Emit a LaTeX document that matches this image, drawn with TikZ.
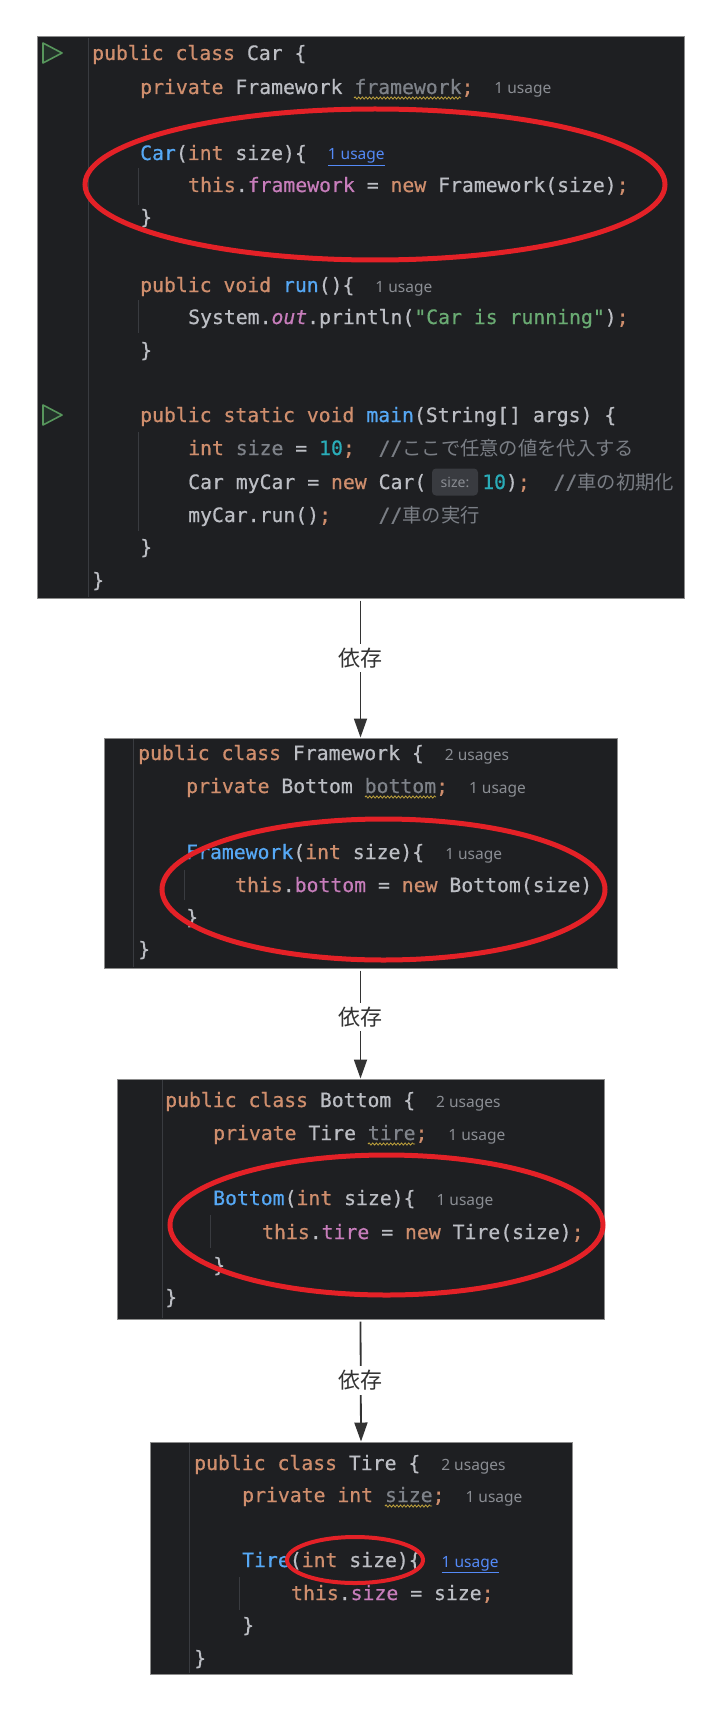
\documentclass[tikz,border=0pt]{standalone}
\usepackage{fontspec}
\usetikzlibrary{arrows.meta,decorations.pathmorphing}
\newfontfamily\codefont[FakeBold=0.6]{DejaVu Sans Mono}
\newfontfamily\hintfont{Noto Sans}
\newfontfamily\jpfont{Noto Sans CJK JP}
\definecolor{editorbg}{HTML}{1E1F22}
\definecolor{paneledge}{HTML}{8C8C8C}
\definecolor{codefg}{HTML}{BCBEC4}
\definecolor{kwcol}{HTML}{CF8E6D}
\definecolor{fncol}{HTML}{56A8F5}
\definecolor{fldcol}{HTML}{C77DBB}
\definecolor{strcol}{HTML}{6AAB73}
\definecolor{numcol}{HTML}{2AACB8}
\definecolor{cmtcol}{HTML}{7A7E85}
\definecolor{unusedcol}{HTML}{7E8289}
\definecolor{hintcol}{HTML}{8A8D93}
\definecolor{linkcol}{HTML}{548AF7}
\definecolor{inlaybg}{HTML}{393B40}
\definecolor{gutterline}{HTML}{393B40}
\definecolor{warnyellow}{HTML}{BFA23C}
\definecolor{rungreen}{HTML}{57965C}
\definecolor{runfill}{HTML}{23302A}
\definecolor{circlered}{HTML}{E42127}
\definecolor{arrowgray}{HTML}{333333}
% syntax colouring
\newcommand{\kw}[1]{\textcolor{kwcol}{#1}}
\newcommand{\fn}[1]{\textcolor{fncol}{#1}}
\newcommand{\fld}[1]{\textcolor{fldcol}{#1}}
\newcommand{\unused}[1]{\textcolor{unusedcol}{#1}}
\newcommand{\strlit}[1]{\textcolor{strcol}{#1}}
\newcommand{\numlit}[1]{\textcolor{numcol}{#1}}
\newcommand{\semi}{\textcolor{kwcol}{;}}
\newcommand{\cmt}[1]{\textcolor{cmtcol}{#1}}
\newcommand{\jp}[1]{{\jpfont\fontsize{19.3}{24}\selectfont#1}}
\newcommand{\hint}[1]{\hspace{21pt}{\hintfont\fontsize{15.5}{18}\selectfont\textcolor{hintcol}{#1}}}
\newcommand{\usagelink}[1]{\hspace{21pt}{\hintfont\fontsize{15.5}{18}\selectfont\color{linkcol}\underline{#1}}}
\begin{document}
\begin{tikzpicture}[x=1pt,y=-1pt,
  panel/.style={draw=paneledge, line width=1pt, fill=editorbg, inner sep=0pt},
  code/.style={anchor=base west, inner sep=0pt, text=codefg, font=\codefont\fontsize{19.77}{24}\selectfont},
  gutter/.style={draw=gutterline, line width=1pt},
  wavy/.style={draw=warnyellow, line width=0.8pt, decorate, decoration={snake, amplitude=1.1pt, segment length=3.6pt}},
  redring/.style={draw=circlered, line width=5pt},
  runmark/.style={draw=rungreen, fill=runfill, line width=1.6pt, line join=round},
  inlay/.style={fill=inlaybg, rounded corners=4pt, inner sep=0pt, minimum width=46pt, minimum height=27pt, text=hintcol, font=\hintfont\fontsize{14}{16}\selectfont},
  dep/.style={draw=arrowgray, line width=1.8pt, -{Triangle[length=19pt,width=13pt]}, shorten <=2pt},
  deplabel/.style={fill=white, inner sep=4pt, text=arrowgray, font=\jpfont\fontsize{22}{26}\selectfont}]
\fill[white] (0,0) rectangle (721,1712);
\useasboundingbox (0,0) rectangle (721,1712);

% the four editor screenshots
\node[panel, minimum width=647pt, minimum height=561pt] (car) at (360.5,317.5) {};
\node[panel, minimum width=513pt, minimum height=230pt] (framework) at (360.5,853) {};
\node[panel, minimum width=487pt, minimum height=240pt] (bottom) at (360.5,1199) {};
\node[panel, minimum width=422pt, minimum height=232pt] (tire) at (361,1558) {};

\draw[gutter] (88,38) -- (88,597);
\draw[gutter] (133,739) -- (133,967);
\draw[gutter] (162,1080) -- (162,1318);
\draw[gutter] (189,1443) -- (189,1673);
\draw[gutter] (138,168) -- (138,205);
\draw[gutter] (138,300) -- (138,333);
\draw[gutter] (138,432) -- (138,531);
\draw[gutter] (184,870) -- (184,900);
\draw[gutter] (210,1215) -- (210,1248);
\draw[gutter] (239,1577) -- (239,1610);

\draw[runmark] (43,43) -- (62,53) -- (43,63) -- cycle;
\draw[runmark] (43,405) -- (62,415) -- (43,425) -- cycle;

% Car
\node[code] (carL1) at (92,60) {\kw{public class} Car \{};
\node[code] (carL2) at (140,94) {\kw{private} Framework \unused{framework}\semi\hint{1 usage}};
\node[code] (carL4) at (140,160) {\fn{Car}(\kw{int} size)\{\usagelink{1 usage}};
\node[code] (carL5) at (188,192) {\kw{this}.\fld{framework} = \kw{new} Framework(size)\semi};
\node[code] (carL6) at (140,224) {\}};
\node[code] (carL8) at (140,292) {\kw{public void} \fn{run}()\{\hint{1 usage}};
\node[code] (carL9) at (188,324) {System.\fld{\itshape out}.println(\strlit{"Car is running"})\semi};
\node[code] (carL10) at (140,357) {\}};
\node[code] (carL12) at (140,422) {\kw{public static void} \fn{main}(String[] args) \{};
\node[code] (carL13) at (188,455) {\kw{int} \unused{size} = \numlit{10}\semi\ \ \cmt{//\jp{ここで任意の値を代入する}}};
\node[code] (carL14a) at (188,489) {Car myCar = \kw{new} Car(};
\node[inlay] (sizehint) at (455,482) {size:};
\node[code] (carL14b) at (482,489) {\numlit{10})\semi\ \ \cmt{//\jp{車の初期化}}};
\node[code] (carL15) at (188,522) {myCar.run()\semi\ \ \ \ \cmt{//\jp{車の実行}}};
\node[code] (carL16) at (140,554) {\}};
\node[code] (carL17) at (92,587) {\}};
\draw[wavy] (354,98) -- (461,98);

% Framework
\node[code] (fwL1) at (138,760) {\kw{public class} Framework \{\hint{2 usages}};
\node[code] (fwL2) at (186,793) {\kw{private} Bottom \unused{bottom}\semi\hint{1 usage}};
\node[code] (fwL4) at (186,859) {\fn{Framework}(\kw{int} size)\{\hint{1 usage}};
\node[code] (fwL5) at (235,892) {\kw{this}.\fld{bottom} = \kw{new} Bottom(size)};
\node[code] (fwL6) at (186,924) {\}};
\node[code] (fwL7) at (138,956) {\}};
\draw[wavy] (365,797) -- (436,797);

% Bottom
\node[code] (btL1) at (165,1107) {\kw{public class} Bottom \{\hint{2 usages}};
\node[code] (btL2) at (213,1140) {\kw{private} Tire \unused{tire}\semi\hint{1 usage}};
\node[code] (btL4) at (213,1205) {\fn{Bottom}(\kw{int} size)\{\hint{1 usage}};
\node[code] (btL5) at (262,1239) {\kw{this}.\fld{tire} = \kw{new} Tire(size)\semi};
\node[code] (btL6) at (213,1272) {\}};
\node[code] (btL7) at (165,1304) {\}};
\draw[wavy] (368,1144) -- (415,1144);

% Tire
\node[code] (trL1) at (194,1470) {\kw{public class} Tire \{\hint{2 usages}};
\node[code] (trL2) at (242,1502) {\kw{private int} \unused{size}\semi\hint{1 usage}};
\node[code] (trL4) at (242,1567) {\fn{Tire}(\kw{int} size)\{\usagelink{1 usage}};
\node[code] (trL5) at (291,1600) {\kw{this}.\fld{size} = size\semi};
\node[code] (trL6) at (242,1632) {\}};
\node[code] (trL7) at (194,1665) {\}};
\draw[wavy] (385,1506) -- (432,1506);

% red marks
\draw[redring] (375,184.5) ellipse [x radius=290pt, y radius=75.5pt];
\draw[redring] (383.5,889.5) ellipse [x radius=221.5pt, y radius=70.5pt];
\draw[redring] (386.5,1225) ellipse [x radius=216.5pt, y radius=70pt];
\draw[redring, line width=4pt] (355,1560) ellipse [x radius=68pt, y radius=23pt];

% dependencies
\draw[dep] (car.south) -- node[deplabel, pos=0.43] (dep1) {依存} (framework.north);
\draw[dep] (framework.south) -- node[deplabel, pos=0.44] (dep2) {依存} (bottom.north);
\draw[dep] (bottom.south) -- node[deplabel, pos=0.5] (dep3) {依存} (tire.north);
\end{tikzpicture}
\end{document}
